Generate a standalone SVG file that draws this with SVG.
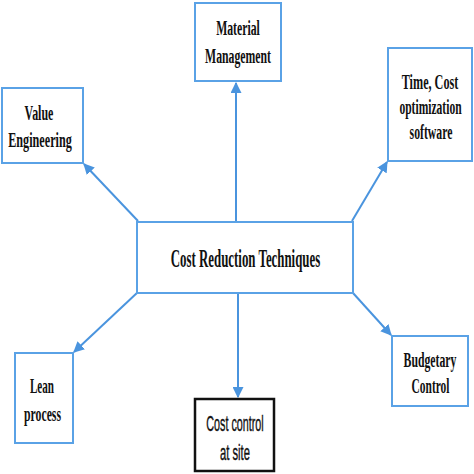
<svg xmlns="http://www.w3.org/2000/svg" width="474" height="474" viewBox="0 0 474 474">
  <style>
    .box { fill: #ffffff; stroke: #5aa2e6; stroke-width: 2; }
    .boxk { fill: #ffffff; stroke: #111111; stroke-width: 2.5; }
    .lbl { font-family: "Liberation Serif", "Times New Roman", serif; font-weight: bold; font-size: 21px; fill: #111111; text-anchor: middle; }
    .lblc { font-family: "Liberation Serif", "Times New Roman", serif; font-weight: bold; font-size: 25px; fill: #111111; text-anchor: middle; }
    .lbls { font-family: "Liberation Sans", Arial, sans-serif; font-size: 22px; fill: #111111; text-anchor: middle; stroke: #111111; stroke-width: 0.4; }
    .conn { stroke: #4a94de; stroke-width: 2; fill: none; marker-end: url(#arr); }
  </style>
  <defs>
    <marker id="arr" viewBox="0 0 10 10" refX="9" refY="5" markerWidth="5.5" markerHeight="5.5" orient="auto" markerUnits="strokeWidth">
      <path d="M0,0 L10,5 L0,10 z" fill="#4a94de"/>
    </marker>
  </defs>
  <rect width="474" height="474" fill="#ffffff"/>

  <g id="connectors">
    <line class="conn" x1="236" y1="221" x2="236" y2="83"/>
    <line class="conn" x1="138" y1="221" x2="84" y2="164"/>
    <line class="conn" x1="352" y1="221" x2="387" y2="162"/>
    <line class="conn" x1="138" y1="292" x2="74" y2="352"/>
    <line class="conn" x1="353" y1="293" x2="391" y2="335"/>
    <line class="conn" x1="238" y1="293" x2="238" y2="397"/>
  </g>

  <g id="center">
    <rect class="box" x="137" y="222" width="216" height="71"/>
    <text class="lblc" transform="translate(245.5 267) scale(0.515 1)">Cost Reduction Techniques</text>
  </g>

  <g id="material">
    <rect class="box" x="195" y="3" width="86" height="78"/>
    <text class="lbl" transform="translate(238 35) scale(0.56 1)">Material</text>
    <text class="lbl" transform="translate(238 63) scale(0.56 1)">Management</text>
  </g>

  <g id="value">
    <rect class="box" x="2" y="88" width="81" height="75"/>
    <text class="lbl" transform="translate(39 120) scale(0.57 1)">Value</text>
    <text class="lbl" transform="translate(40 147) scale(0.58 1)">Engineering</text>
  </g>

  <g id="timecost">
    <rect class="box" x="388" y="48" width="84" height="113"/>
    <text class="lbl" transform="translate(430 89) scale(0.58 1)">Time, Cost</text>
    <text class="lbl" transform="translate(430.5 114) scale(0.55 1)">optimization</text>
    <text class="lbl" transform="translate(431 139) scale(0.56 1)">software</text>
  </g>

  <g id="lean">
    <rect class="box" x="15" y="353" width="58" height="90"/>
    <text class="lbl" transform="translate(42 393) scale(0.53 1)">Lean</text>
    <text class="lbl" transform="translate(42.5 421) scale(0.56 1)">process</text>
  </g>

  <g id="budgetary">
    <rect class="box" x="392" y="336" width="76" height="70"/>
    <text class="lbl" transform="translate(430 367) scale(0.56 1)">Budgetary</text>
    <text class="lbl" transform="translate(430.5 393) scale(0.545 1)">Control</text>
  </g>

  <g id="site">
    <rect class="boxk" x="195" y="399" width="79" height="72"/>
    <text class="lbls" transform="translate(235 431) scale(0.49 1)">Cost control</text>
    <text class="lbls" transform="translate(235 460) scale(0.51 1)">at site</text>
  </g>
</svg>
